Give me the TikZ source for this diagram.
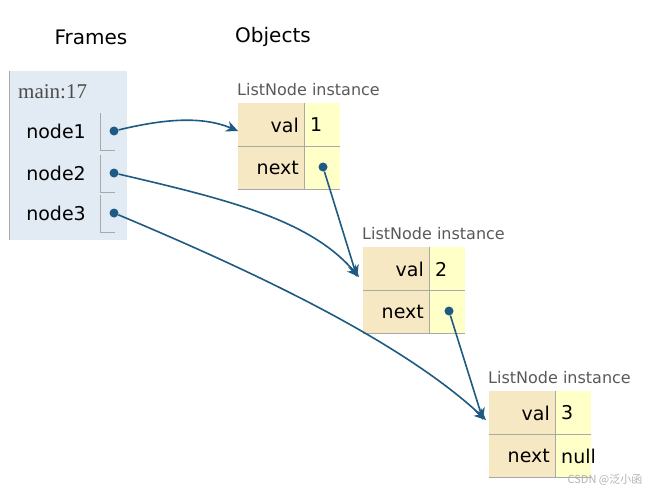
\documentclass[tikz,border=0pt]{standalone}
\usepackage{fontspec}
\setmainfont{DejaVu Sans}
\newfontfamily\monof{Liberation Serif}
\newfontfamily\cjk{Noto Sans CJK SC}
\usetikzlibrary{arrows.meta}
\definecolor{frm}{HTML}{E2EAF4}
\definecolor{hdr}{HTML}{F7E8C4}
\definecolor{vcl}{HTML}{FFFFC8}
\definecolor{arr}{HTML}{1F5A82}
\definecolor{gl}{HTML}{A8A8A8}
\tikzset{
  lbl/.style={font=\fontsize{19}{22}\selectfont, text=black},
  obj/.style={font=\fontsize{16}{18}\selectfont, text=black!65, anchor=west, inner sep=0},
  ptr/.style={draw=arr, line width=1.6pt, -{Stealth[length=12pt,width=11pt]}},
  dot/.style={circle, fill=arr, inner sep=0, minimum size=9pt},
}
\begin{document}
\begin{tikzpicture}[x=1pt,y=-1pt]
\useasboundingbox (0,0) rectangle (663,496);
\node[lbl,font=\fontsize{20}{22}\selectfont] (fh) at (91,37) {Frames};
\node[lbl,font=\fontsize{20}{22}\selectfont] (oh) at (273,37) {Objects};
\fill[frm] (9,71) rectangle (127,240);
\draw[gl,line width=0.8pt] (9,71) -- (9,240);
\node[anchor=west,inner sep=0,font=\monof\fontsize{21}{23}\selectfont,text=black!70] (mn) at (18,92) {main:17};
\foreach \n/\y in {1/131,2/173,3/213}{
  \node[lbl,anchor=east,inner sep=0] (v\n) at (86,\y) {node\n};
  \draw[gl,line width=0.6pt] (100,\y-18) -- (100,\y+19) -- (115,\y+19);
  \node[dot] (d\n) at (114,\y) {};
}
\foreach \i/\x/\y/\v in {1/238/103/1,2/363/247/2,3/489/391/3}{
  \node[obj] (l\i) at (\x-1,\y-13) {ListNode instance};
  \fill[hdr] (\x,\y) rectangle (\x+66,\y+86);
  \fill[vcl] (\x+66,\y) rectangle (\x+102,\y+86);
  \draw[gl,line width=0.8pt] (\x,\y+43) -- (\x+102,\y+43);
  \draw[gl,line width=0.8pt] (\x+66,\y) -- (\x+66,\y+86);
  \draw[gl,line width=0.8pt] (\x,\y+86) -- (\x+102,\y+86);
  \node[lbl,anchor=east,inner sep=0] (k\i) at (\x+61,\y+22) {val};
  \node[lbl,anchor=east,inner sep=0] (n\i) at (\x+61,\y+65) {next};
  \node[lbl,anchor=west,inner sep=0] (val\i) at (\x+8,\y+22) {};
  \node[lbl,anchor=west,inner sep=0] (w\i) at (\x+72,\y+22) {\v};
}
\node[lbl,anchor=west,inner sep=0] (null) at (561,456) {null};
\node[dot] (e1) at (323,167) {};
\node[dot] (e2) at (449,311) {};
\node[font=\cjk\fontsize{11}{12}\selectfont,text=black!30] (wm) at (605,480) {CSDN @泛小函};
\draw[ptr] (d1) .. controls (160,120) and (200,115) .. (238,131);
\draw[ptr] (d2) .. controls (230,200) and (310,220) .. (359,277);
\draw[ptr] (d3) .. controls (250,270) and (400,340) .. (486,420);
\draw[ptr] (e1) -- (357,277);
\draw[ptr] (e2) -- (483,420);
\end{tikzpicture}
\end{document}
